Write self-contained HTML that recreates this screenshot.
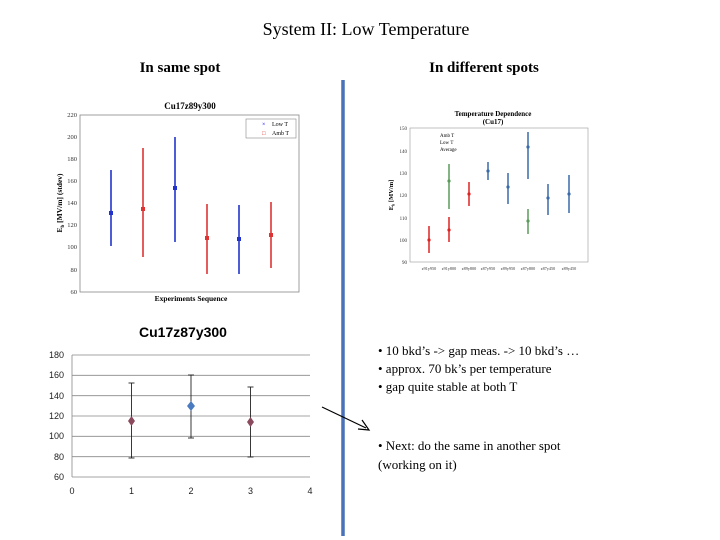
<!DOCTYPE html>
<html><head><style>
body{margin:0;width:720px;height:540px;background:#fff;overflow:hidden}
svg{position:absolute;left:0;top:0}
</style></head><body>
<svg width="720" height="540" xmlns="http://www.w3.org/2000/svg" font-family="Liberation Serif, serif">
<text x="366" y="35" font-size="18" text-anchor="middle">System II: Low Temperature</text>
<text x="180" y="72" font-size="15" font-weight="bold" text-anchor="middle">In same spot</text>
<text x="484" y="72" font-size="15" font-weight="bold" text-anchor="middle">In different spots</text>
<line x1="343" y1="80" x2="343" y2="536" stroke="#4a72b8" stroke-width="3.5"/>

<!-- Chart 1 -->
<text x="190" y="109" font-size="9" font-weight="bold" text-anchor="middle">Cu17z89y300</text>
<rect x="80" y="115" width="219" height="177" fill="none" stroke="#888" stroke-width="0.8"/>
<g font-size="6.5" text-anchor="end" fill="#333">
<text x="77" y="117">220</text><text x="77" y="139">200</text><text x="77" y="161">180</text><text x="77" y="183">160</text><text x="77" y="205">140</text><text x="77" y="227">120</text><text x="77" y="249">100</text><text x="77" y="272">80</text><text x="77" y="294">60</text>
</g>
<text x="191" y="301" font-size="7.5" font-weight="bold" text-anchor="middle">Experiments Sequence</text>
<text transform="translate(62,203) rotate(-90)" font-size="7.5" font-weight="bold" text-anchor="middle">E<tspan font-size="5" dy="2">b</tspan><tspan dy="-2"> [MV/m] (stdev)</tspan></text>
<rect x="246" y="119" width="50" height="19" fill="#fff" stroke="#888" stroke-width="0.6"/>
<text x="262" y="126" font-size="6" fill="#00f">×</text><text x="272" y="126" font-size="6">Low T</text>
<text x="262" y="135" font-size="6" fill="#d33">□</text><text x="272" y="135" font-size="6">Amb T</text>
<g stroke-width="1.6">
<g stroke="#2233cc"><line x1="111" y1="246" x2="111" y2="170"/><line x1="175" y1="242" x2="175" y2="137"/><line x1="239" y1="274" x2="239" y2="205"/></g>
<g stroke="#d33"><line x1="143" y1="257" x2="143" y2="148"/><line x1="207" y1="274" x2="207" y2="204"/><line x1="271" y1="268" x2="271" y2="202"/></g>
</g>
<g fill="#2233cc"><rect x="109" y="211" width="4" height="4"/><rect x="173" y="186" width="4" height="4"/><rect x="237" y="237" width="4" height="4"/></g>
<g fill="#d33"><rect x="141" y="207" width="4" height="4"/><rect x="205" y="236" width="4" height="4"/><rect x="269" y="233" width="4" height="4"/></g>

<!-- Chart 2 -->
<text x="493" y="116" font-size="7" font-weight="bold" text-anchor="middle">Temperature Dependence</text>
<text x="493" y="124" font-size="7" font-weight="bold" text-anchor="middle">(Cu17)</text>
<rect x="410" y="128" width="178" height="134" fill="none" stroke="#999" stroke-width="0.6"/>
<g font-size="5" text-anchor="end" fill="#333">
<text x="407" y="130">150</text><text x="407" y="153">140</text><text x="407" y="175">130</text><text x="407" y="197">120</text><text x="407" y="220">110</text><text x="407" y="242">100</text><text x="407" y="264">90</text>
</g>
<text transform="translate(393,195) rotate(-90)" font-size="6.5" font-weight="bold" text-anchor="middle">E<tspan font-size="4" dy="1.5">b</tspan><tspan dy="-1.5"> [MV/m]</tspan></text>
<g font-size="4.2" fill="#333" text-anchor="middle">
<text x="429" y="270">z91y950</text><text x="449" y="270">z91y800</text><text x="469" y="270">z89y800</text><text x="488" y="270">z87y950</text><text x="508" y="270">z89y950</text><text x="528" y="270">z87y800</text><text x="548" y="270">z87y450</text><text x="569" y="270">z89y450</text>
</g>
<rect x="418" y="130" width="42" height="23" fill="#fff" stroke="none"/>
<text x="440" y="137" font-size="5">Amb T</text><text x="440" y="144" font-size="5">Low T</text><text x="440" y="151" font-size="5">Average</text>
<g stroke-width="1.5">
<g stroke="#d22"><line x1="429" y1="253" x2="429" y2="226"/><line x1="449" y1="242" x2="449" y2="217"/><line x1="469" y1="206" x2="469" y2="182"/></g>
<g stroke="#5a9a5a"><line x1="449" y1="209" x2="449" y2="164"/><line x1="528" y1="234" x2="528" y2="209"/></g>
<g stroke="#3a6aa8"><line x1="488" y1="180" x2="488" y2="162"/><line x1="508" y1="204" x2="508" y2="173"/><line x1="528" y1="179" x2="528" y2="132"/><line x1="548" y1="215" x2="548" y2="184"/><line x1="569" y1="213" x2="569" y2="175"/></g>
</g>
<g><circle cx="429" cy="240" r="1.6" fill="#d22"/><circle cx="449" cy="230" r="1.6" fill="#d22"/><circle cx="469" cy="194" r="1.6" fill="#d22"/><circle cx="449" cy="181" r="1.6" fill="#5a9a5a"/><circle cx="528" cy="221" r="1.6" fill="#5a9a5a"/><circle cx="488" cy="171" r="1.6" fill="#3a6aa8"/><circle cx="508" cy="187" r="1.6" fill="#3a6aa8"/><circle cx="528" cy="147" r="1.6" fill="#3a6aa8"/><circle cx="548" cy="198" r="1.6" fill="#3a6aa8"/><circle cx="569" cy="194" r="1.6" fill="#3a6aa8"/></g>

<!-- Chart 3 -->
<text x="183" y="337" font-size="14" font-weight="bold" text-anchor="middle" font-family="Liberation Sans, sans-serif">Cu17z87y300</text>
<g stroke="#888" stroke-width="0.8">
<line x1="72" y1="355" x2="310" y2="355"/><line x1="72" y1="375.3" x2="310" y2="375.3"/><line x1="72" y1="395.7" x2="310" y2="395.7"/><line x1="72" y1="416" x2="310" y2="416"/><line x1="72" y1="436.3" x2="310" y2="436.3"/><line x1="72" y1="456.7" x2="310" y2="456.7"/><line x1="72" y1="477" x2="310" y2="477"/>
<line x1="72" y1="355" x2="72" y2="477"/>
</g>
<g font-size="9" font-family="Liberation Sans, sans-serif" fill="#222" text-anchor="end">
<text x="64" y="358">180</text><text x="64" y="378">160</text><text x="64" y="399">140</text><text x="64" y="419">120</text><text x="64" y="439">100</text><text x="64" y="460">80</text><text x="64" y="480">60</text>
</g>
<g font-size="9" font-family="Liberation Sans, sans-serif" fill="#222" text-anchor="middle">
<text x="72" y="494">0</text><text x="131.5" y="494">1</text><text x="191" y="494">2</text><text x="250.5" y="494">3</text><text x="310" y="494">4</text>
</g>
<g stroke="#222" stroke-width="0.9">
<line x1="131.5" y1="383" x2="131.5" y2="458"/><line x1="128.5" y1="383" x2="134.5" y2="383"/><line x1="128.5" y1="458" x2="134.5" y2="458"/>
<line x1="191" y1="375" x2="191" y2="438"/><line x1="188" y1="375" x2="194" y2="375"/><line x1="188" y1="438" x2="194" y2="438"/>
<line x1="250.5" y1="387" x2="250.5" y2="457"/><line x1="247.5" y1="387" x2="253.5" y2="387"/><line x1="247.5" y1="457" x2="253.5" y2="457"/>
</g>
<polygon points="131.5,416 135,421 131.5,426 128,421" fill="#8b4a5e"/>
<polygon points="191,401 195,406 191,411 187,406" fill="#4a7abf"/>
<polygon points="250.5,417 254,422 250.5,427 247,422" fill="#8b4a5e"/>
<line x1="322" y1="407" x2="366" y2="428" stroke="#000" stroke-width="1.2"/>
<polyline points="358,429 369,430 362,420" fill="none" stroke="#000" stroke-width="1.2"/>

<g font-size="13">
<text x="378" y="355">• 10 bkd’s -&gt; gap meas. -&gt; 10 bkd’s …</text>
<text x="378" y="373">• approx. 70 bk’s per temperature</text>
<text x="378" y="391">• gap quite stable at both T</text>
<text x="378" y="450">• Next: do the same in another spot</text>
<text x="378" y="469">(working on it)</text>
</g>
</svg>
</body></html>
